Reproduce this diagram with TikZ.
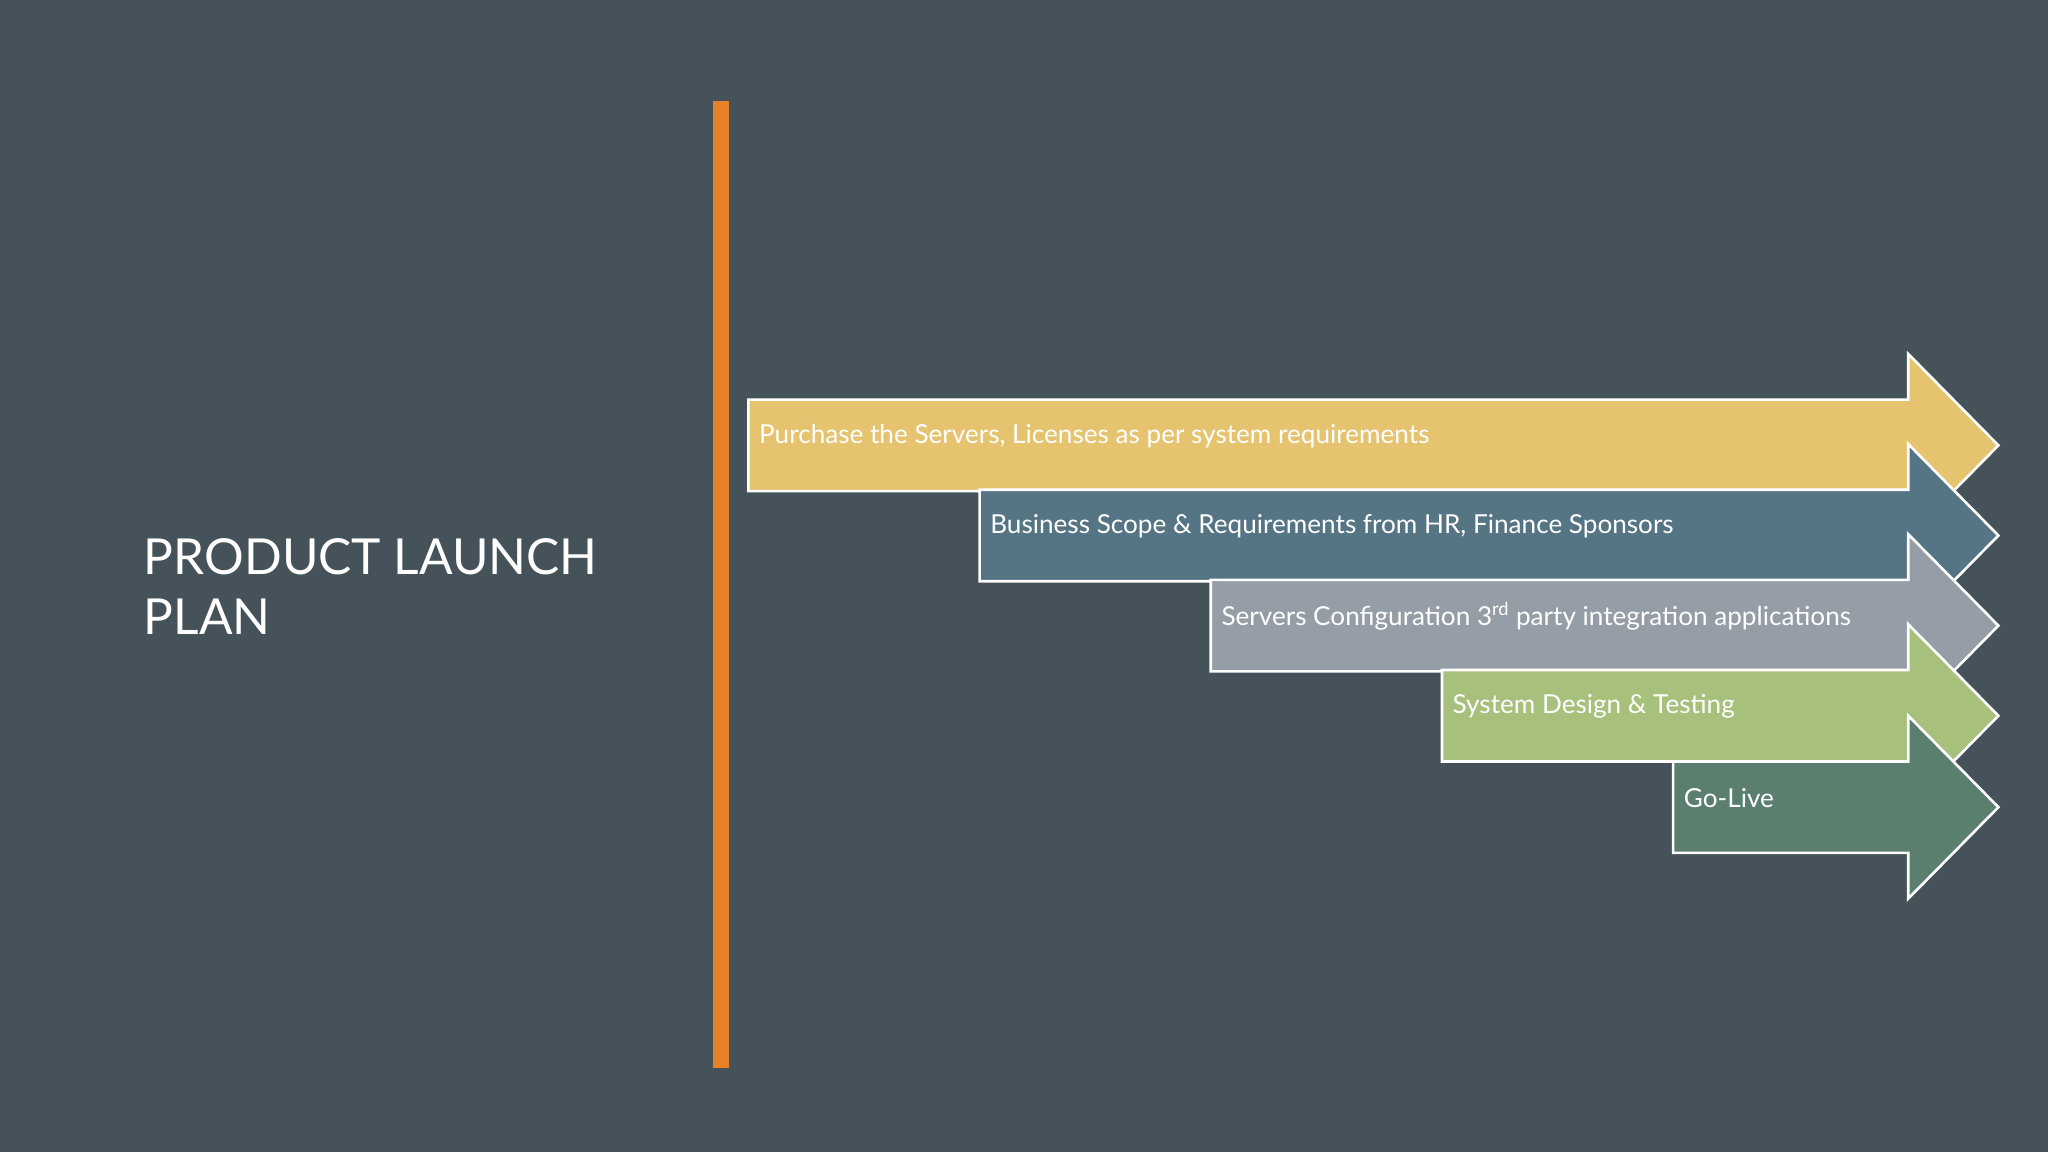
\documentclass[tikz,border=0pt]{standalone}
\usepackage{fontspec}
\setmainfont{Lato}
\definecolor{bg}{HTML}{46525A}
\definecolor{bar}{HTML}{E6812A}
\definecolor{c1}{HTML}{E6C36F}
\definecolor{c2}{HTML}{557585}
\definecolor{c3}{HTML}{959EA6}
\definecolor{c4}{HTML}{A7C07C}
\definecolor{c5}{HTML}{5A7F6F}
\tikzset{arr/.style={draw=white,line width=2pt,line join=miter},
 lbl/.style={text=white,anchor=west,font=\fontsize{20}{24}\selectfont,inner sep=0pt}}
\newcommand{\myarrow}[4]{% x, top y, color, name
 \fill[#3] (#1,#2) -- (1461,#2) -- (1461,#2-35) -- (1530,#2+35) -- (1461,#2+105) -- (1461,#2+70) -- (#1,#2+70) -- cycle;
 \draw[arr] (#1,#2) -- (1461,#2) -- (1461,#2-35) -- (1530,#2+35) -- (1461,#2+105) -- (1461,#2+70) -- (#1,#2+70) -- cycle;
 \coordinate (#4) at (#1+8,#2+28);}
\begin{document}
\begin{tikzpicture}[x=1pt,y=-1pt]
\fill[bg] (0,0) rectangle (1568,882);
\useasboundingbox (0,0) rectangle (1568,882);
\fill[bar] (546,77) rectangle (558,818);
\node[text=white,anchor=north west,align=left,inner sep=0pt,font=\fontsize{38}{46}\selectfont] (title) at (110,412) {PRODUCT LAUNCH\\PLAN};
\myarrow{573}{306}{c1}{a1}
\myarrow{750}{375}{c2}{a2}
\myarrow{927}{444}{c3}{a3}
\myarrow{1104}{513}{c4}{a4}
\myarrow{1281}{583}{c5}{a5}
\node[lbl] (t1) at (a1) {Purchase the Servers, Licenses as per system requirements};
\node[lbl] (t2) at (a2) {Business Scope \& Requirements from HR, Finance Sponsors};
\node[lbl] (t3) at (a3) {Servers Configuration 3\textsuperscript{rd} party integration applications};
\node[lbl] (t4) at (a4) {System Design \& Testing};
\node[lbl] (t5) at (a5) {Go-Live};
\end{tikzpicture}
\end{document}
